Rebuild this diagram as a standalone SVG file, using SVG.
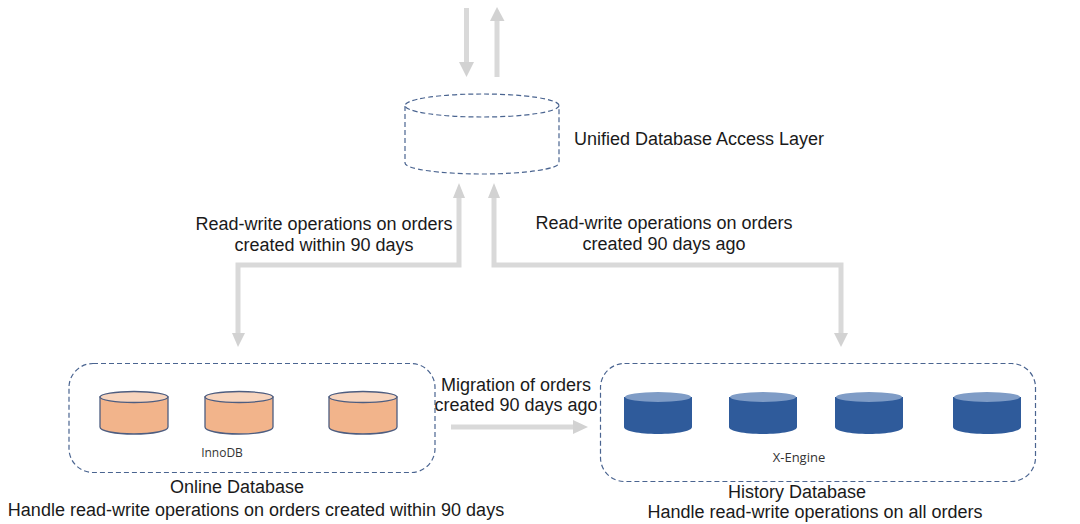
<svg xmlns="http://www.w3.org/2000/svg" width="1080" height="524" viewBox="0 0 1080 524">
<style>
text{font-family:"Liberation Sans",Arial,sans-serif;font-size:18px;fill:#1a1a1a;text-anchor:middle}
text.innodb{font-family:"Open Sans","Noto Sans",sans-serif;font-size:12px;fill:#333}
text.xengine{font-family:"Open Sans","Noto Sans",sans-serif;font-size:13px;fill:#333}
.dash{fill:none;stroke:#4a6490;stroke-width:1.2;stroke-dasharray:5 3}
.line{fill:none;stroke:#d9d9d9;stroke-width:5}
.head{fill:#d2d2d2}
.oBody{fill:#f2b48b;stroke:#4d5d80;stroke-width:1.3}
.oTop{fill:#f7d4bd;stroke:#4d5d80;stroke-width:1.3}
.bBody{fill:#2f5b9b}
.bTop{fill:#7f9cc6}
</style>
<defs>
<g id="oc"><path class="oBody" d="M0 6V36C0 40 15 43 34 43S68 40 68 36V6Z"/><ellipse class="oTop" cx="34" cy="6" rx="34" ry="5.5"/></g>
<g id="bc"><path class="bBody" d="M0 6V36C0 40 15 43 34 43S68 40 68 36V6Z"/><ellipse class="bTop" cx="34" cy="6" rx="33" ry="5"/></g>
</defs>
<g id="connectors">
<path class="line" d="M466.500 8V64"/><path class="head" d="M459 62H474L466.500 77Z"/>
<path class="line" d="M497 77V20"/><path class="head" d="M490 21H504.500L497 7Z"/>
<path class="line" d="M459 197V265H238V335"/><path class="head" d="M459 183L453 198H465Z"/><path class="head" d="M232 333H245L238 347Z"/>
<path class="line" d="M494 197V265H841V335"/><path class="head" d="M494 183L488 198H500Z"/><path class="head" d="M834 333H848L841 347Z"/>
<path class="line" d="M451 427H575"/><path class="head" d="M573 420V434L588 427Z"/>
</g>
<g id="access-layer">
<path class="dash" d="M405 106V163C405 169 440 174 482 174S559 169 559 163V106"/>
<ellipse class="dash" cx="482" cy="105.500" rx="77" ry="11.500"/>
<text x="699" y="145">Unified Database Access Layer</text>
</g>
<g id="online-database">
<rect class="dash" x="69" y="363.500" width="366" height="109" rx="24"/>
<use href="#oc" x="100" y="391"/><use href="#oc" x="205" y="391"/><use href="#oc" x="329" y="391"/>
<text class="innodb" x="222" y="457">InnoDB</text>
<text x="237" y="493">Online Database</text>
<text x="256" y="516">Handle read-write operations on orders created within 90 days</text>
</g>
<g id="history-database">
<rect class="dash" x="600.500" y="363.500" width="435" height="118" rx="24"/>
<use href="#bc" x="624" y="391"/><use href="#bc" x="729" y="391"/><use href="#bc" x="835" y="391"/><use href="#bc" x="953" y="391"/>
<text class="xengine" x="799" y="462">X-Engine</text>
<text x="797" y="498">History Database</text>
<text x="815" y="518">Handle read-write operations on all orders</text>
</g>
<g id="labels">
<text x="324" y="230">Read-write operations on orders</text>
<text x="324" y="251">created within 90 days</text>
<text x="664" y="229">Read-write operations on orders</text>
<text x="664" y="250">created 90 days ago</text>
<text x="516" y="391">Migration of orders</text>
<text x="516" y="411">created 90 days ago</text>
</g>
</svg>
